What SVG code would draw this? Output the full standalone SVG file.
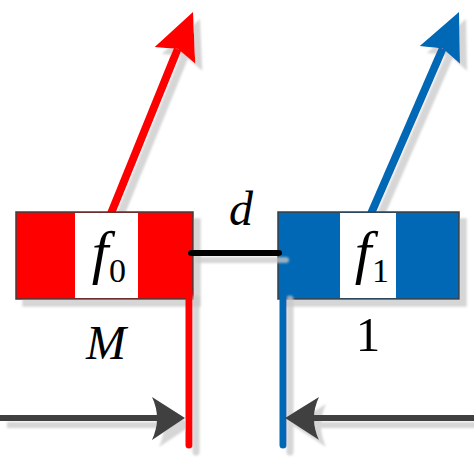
<svg xmlns="http://www.w3.org/2000/svg" width="474" height="474" viewBox="0 0 474 474">
<defs>
<filter id="sh" x="-20%" y="-20%" width="150%" height="150%">
<feGaussianBlur in="SourceAlpha" stdDeviation="0.8" result="b"/>
<feOffset in="b" dx="7" dy="7" result="o"/>
<feFlood flood-color="#c8c8c8" flood-opacity="0.75"/>
<feComposite in2="o" operator="in" result="s"/>
<feMerge><feMergeNode in="s"/><feMergeNode in="SourceGraphic"/></feMerge>
</filter>
<style>
.red{fill:#ff0000}
.blue{fill:#0068b5}
.box{stroke:#3c3c3c;stroke-width:1.5}
.wh{fill:#ffffff}
.t{font-family:"Liberation Serif","Times New Roman",serif;fill:#000}
.it{font-style:italic}
</style>
</defs>
<g id="arrow-f0" filter="url(#sh)">
<line x1="110" y1="216" x2="177.7" y2="49" stroke="#ff0000" stroke-width="8"/>
<polygon points="193,12 195.3,63.8 177.7,49 154.7,47" fill="#ff0000"/>
</g>
<g id="arrow-f1" filter="url(#sh)">
<line x1="370" y1="216" x2="442.7" y2="48.5" stroke="#0068b5" stroke-width="8"/>
<polygon points="459,12 460,63.8 442.7,48.5 419.8,46" fill="#0068b5"/>
</g>
<g id="node-M">
<g filter="url(#sh)">
<rect class="red box" x="16" y="212" width="177" height="87"/>
</g>
<rect class="wh" x="75" y="213" width="63" height="85"/>
<text class="t it" x="100" y="272" font-size="60" text-anchor="middle">f</text>
<text class="t" x="109" y="282" font-size="34">0</text>
<text class="t it" x="106" y="359" font-size="48" text-anchor="middle">M</text>
</g>
<g id="node-1">
<g filter="url(#sh)">
<rect class="blue box" x="278" y="212" width="181" height="87"/>
</g>
<rect class="wh" x="340" y="213" width="56" height="85"/>
<text class="t it" x="363" y="272" font-size="60" text-anchor="middle">f</text>
<text class="t" x="372" y="282" font-size="34">1</text>
<text class="t" x="368" y="351" font-size="49" text-anchor="middle">1</text>
</g>
<g id="connectors" filter="url(#sh)">
<line x1="189" y1="292" x2="189" y2="445" stroke="#ff0000" stroke-width="7" stroke-linecap="round"/>
<line x1="283" y1="292" x2="283" y2="445" stroke="#0068b5" stroke-width="7" stroke-linecap="round"/>
<line x1="191" y1="253" x2="279" y2="253" stroke="#000" stroke-width="6" stroke-linecap="round"/>
<line x1="0" y1="418" x2="160" y2="418" stroke="#404040" stroke-width="6"/>
<path d="M185,418 L152,397 Q162,418 152,440 Z" fill="#404040"/>
<line x1="474" y1="418" x2="312" y2="418" stroke="#404040" stroke-width="6"/>
<path d="M285,418 L319,397 Q309,418 319,440 Z" fill="#404040"/>
</g>
<text class="t it" x="241" y="225" font-size="48" text-anchor="middle">d</text>
</svg>
